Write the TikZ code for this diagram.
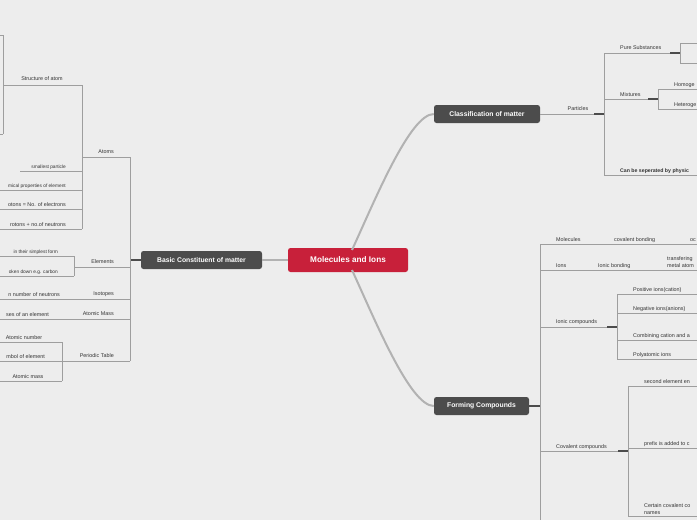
\documentclass[tikz,border=0pt]{standalone}
\usepackage{fontspec}
\setmainfont{Liberation Sans}
\begin{document}
\begin{tikzpicture}[x=1pt,y=-1pt,
  ln/.style={draw=black!38,line width=0.7pt},
  tx/.style={inner sep=0pt,font=\fontsize{5.4}{6}\selectfont,text=black!80},
  boxn/.style={fill=black!70,rounded corners=2.5pt,text=white,font=\fontsize{6.8}{7}\selectfont\bfseries,inner sep=0pt,minimum height=18pt},
  hub/.style={line width=1.2pt,draw=black!70}]
\useasboundingbox[fill=black!7] (0,0) rectangle (697,520);
% main nodes
\node[boxn,fill={rgb,255:red,200;green,32;blue,58},minimum width=120pt,minimum height=24pt,font=\fontsize{8.2}{9}\selectfont\bfseries] (c) at (348,260) {Molecules and Ions};
\node[boxn,minimum width=121pt] (b) at (201.5,260) {Basic Constituent of matter};
\node[boxn,minimum width=106pt] (k) at (487,114) {Classification of matter};
\node[boxn,minimum width=95pt] (f) at (481.5,406) {Forming Compounds};
\draw[draw=black!30,line width=2pt] (c.west) -- (b.east);
\draw[draw=black!30,line width=2pt] (352,250) .. controls (375,200) and (410,114) .. (k.west);
\draw[draw=black!30,line width=2pt] (352,270) .. controls (375,320) and (410,406) .. (f.west);
% ---- left ----
\coordinate (bl) at (130,260);
\draw[hub] (b.west) -- (bl);
\draw[ln] (130,157) -- (130,361);
\foreach \y/\xa/\t in {157/82/Atoms,267/74/Elements,299/0/Isotopes,319/0/Atomic Mass,361/62/Periodic Table}
  {\draw[ln] (\xa,\y) -- (130,\y); \node[tx,anchor=base east] at (114,\y-4) {\t};}
% Atoms
\draw[ln] (82,85) -- (82,229);
\draw[ln] (3,85) -- (82,85); \node[tx,anchor=base] at (42,80) {Structure of atom};
\draw[ln] (3,35) -- (3,134); \draw[ln] (0,35) -- (3,35); \draw[ln] (0,134) -- (3,134);
\draw[ln] (20,171) -- (82,171); \node[tx,anchor=base east,font=\fontsize{4.8}{5}\selectfont] at (66,168) {smallest particle};
\draw[ln] (0,190) -- (82,190); \node[tx,anchor=base east,font=\fontsize{4.8}{5}\selectfont] at (66,187) {mical properties of element};
\draw[ln] (0,209) -- (82,209); \node[tx,anchor=base east] at (66,206) {otons = No. of electrons};
\draw[ln] (0,229) -- (82,229); \node[tx,anchor=base east] at (66,226) {rotons + no.of neutrons};
% Elements
\draw[ln] (74,256) -- (74,276);
\draw[ln] (0,256) -- (74,256); \node[tx,anchor=base east,font=\fontsize{4.8}{5}\selectfont] at (58,253) {in their simplest form};
\draw[ln] (0,276) -- (74,276); \node[tx,anchor=base east,font=\fontsize{4.8}{5}\selectfont] at (58,273) {oken down e.g. carbon};
\node[tx,anchor=base east] at (60,296) {n number of neutrons};
\node[tx,anchor=base east] at (49,316) {ses of an element};
% Periodic
\draw[ln] (62,342) -- (62,381);
\draw[ln] (0,342) -- (62,342); \node[tx,anchor=base] at (24,339) {Atomic number};
\draw[ln] (0,361) -- (62,361); \node[tx,anchor=base east] at (45,358) {mbol of element};
\draw[ln] (0,381) -- (62,381); \node[tx,anchor=base] at (28,378) {Atomic mass};
% ---- right top ----
\draw[ln] (k.east) -- (604,114); \draw[hub] (594,114) -- (604,114);
\node[tx,anchor=base] at (578,110) {Particles};
\draw[ln] (604,53) -- (604,175);
\draw[ln] (604,53) -- (680,53); \draw[hub] (670,53) -- (680,53); \node[tx,anchor=base west] at (620,49) {Pure Substances};
\draw[ln] (680,43) -- (680,63); \draw[ln] (680,43) -- (697,43); \draw[ln] (680,63) -- (697,63);
\draw[ln] (604,99) -- (658,99); \draw[hub] (648,99) -- (658,99); \node[tx,anchor=base west] at (620,96) {Mixtures};
\draw[ln] (658,89) -- (658,109);
\draw[ln] (658,89) -- (697,89); \node[tx,anchor=base west] at (674,86) {Homoge};
\draw[ln] (658,109) -- (697,109); \node[tx,anchor=base west] at (674,106) {Heteroge};
\draw[ln] (604,175) -- (697,175); \node[tx,anchor=base west,font=\fontsize{5.2}{6}\selectfont\bfseries] at (620,172) {Can be seperated by physic};
% ---- right bottom ----
\draw[hub] (f.east) -- (540,406);
\draw[ln] (540,244) -- (540,520);
\draw[ln] (540,244) -- (697,244);
\node[tx,anchor=base west] at (556,241) {Molecules};
\node[tx,anchor=base west] at (614,241) {covalent bonding};
\node[tx,anchor=base west] at (690,241) {oc};
\draw[ln] (540,270) -- (697,270);
\node[tx,anchor=base west] at (556,267) {Ions};
\node[tx,anchor=base west] at (598,267) {Ionic bonding};
\node[tx,anchor=base west,align=left] at (667,260) {transfering};
\node[tx,anchor=base west,align=left] at (667,267) {metal atom};
\draw[ln] (540,327) -- (617,327); \draw[hub] (607,327) -- (617,327); \node[tx,anchor=base west] at (556,323) {Ionic compounds};
\draw[ln] (617,294) -- (617,359);
\foreach \y/\t in {294/Positive ions(cation),313/Negative ions(anions),340/Combining cation and a,359/Polyatomic ions}
  {\draw[ln] (617,\y) -- (697,\y); \node[tx,anchor=base west] at (633,\y-3) {\t};}
\draw[ln] (540,451) -- (628,451); \draw[hub] (618,451) -- (628,451); \node[tx,anchor=base west] at (556,448) {Covalent compounds};
\draw[ln] (628,386) -- (628,516);
\draw[ln] (628,386) -- (697,386); \node[tx,anchor=base west] at (644,383) {second element en};
\draw[ln] (628,448) -- (697,448); \node[tx,anchor=base west] at (644,445) {prefix is added to c};
\draw[ln] (628,516) -- (697,516); \node[tx,anchor=base west] at (644,507) {Certain covalent co};
\node[tx,anchor=base west] at (644,514) {names};
\end{tikzpicture}
\end{document}
